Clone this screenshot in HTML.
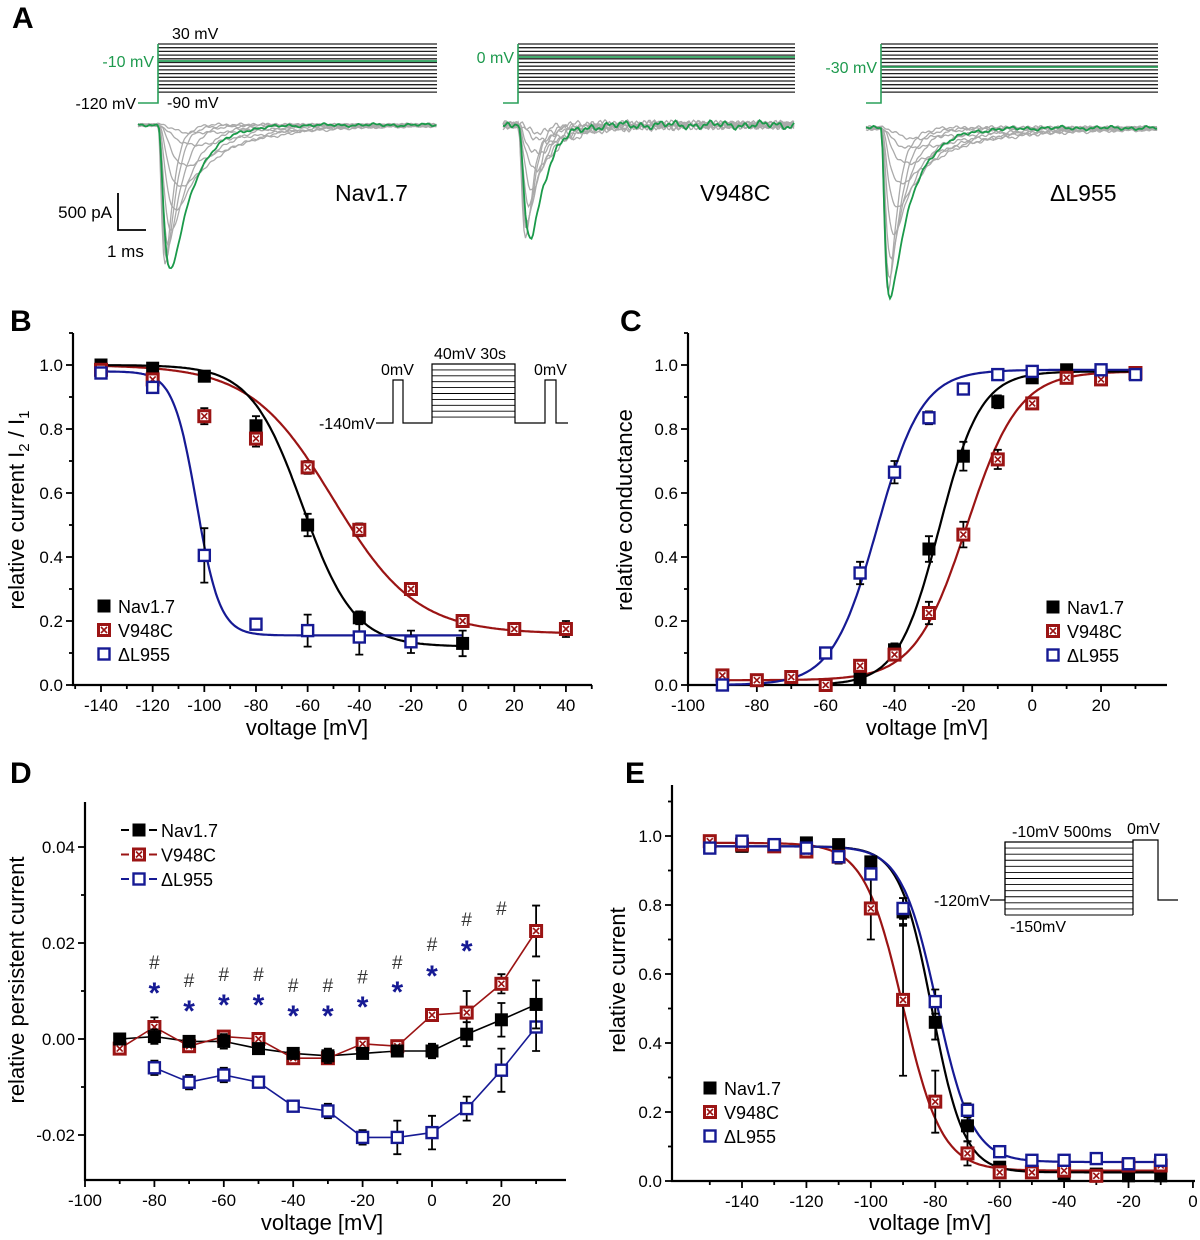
<!DOCTYPE html>
<html><head><meta charset="utf-8"><style>
html,body{margin:0;padding:0;background:#fff;}
svg{display:block;font-family:"Liberation Sans",Arial,sans-serif;}
</style></head><body>
<svg id="fig" width="1200" height="1240" viewBox="0 0 1200 1240" xmlns="http://www.w3.org/2000/svg">
<g id="layer"></g>
</svg>
<script>
// ---------------- DATA ----------------
// Panel B (steady-state slow inactivation)
const bV_nav=[-140,-120,-100,-80,-60,-40,0];
const bY_nav=[1.0,0.99,0.965,0.81,0.50,0.21,0.13];
const bE_nav=[0.01,0.01,0.015,0.03,0.035,0.02,0.04];
const bV_v9=[-140,-120,-100,-80,-60,-40,-20,0,20,40];
const bY_v9=[0.985,0.955,0.84,0.77,0.68,0.485,0.30,0.20,0.175,0.175];
const bE_v9=[0.01,0.01,0.025,0.025,0.02,0.02,0.01,0.01,0.01,0.025];
const bV_dl=[-140,-120,-100,-80,-60,-40,-20];
const bY_dl=[0.975,0.93,0.405,0.19,0.17,0.15,0.135];
const bE_dl=[0.015,0.015,0.085,0.01,0.05,0.055,0.035];
const bFit_nav=[-62,10,1.0,0.12], bFit_v9=[-50,16,1.0,0.16], bFit_dl=[-103,4.5,0.98,0.155];
// Panel C (activation)
const cV_nav=[-60,-50,-40,-30,-20,-10,0,10,20,30];
const cY_nav=[0.0,0.02,0.11,0.425,0.715,0.885,0.96,0.985,0.98,0.975];
const cE_nav=[0.005,0.01,0.02,0.04,0.045,0.02,0.015,0.01,0.01,0.01];
const cV_v9=[-90,-80,-70,-60,-50,-40,-30,-20,-10,0,10,20,30];
const cY_v9=[0.03,0.015,0.025,0.0,0.06,0.095,0.225,0.47,0.705,0.88,0.96,0.955,0.975];
const cE_v9=[0.01,0.01,0.01,0.01,0.01,0.015,0.035,0.04,0.03,0.015,0.01,0.01,0.01];
const cV_dl=[-90,-60,-50,-40,-30,-20,-10,0,20,30];
const cY_dl=[0.0,0.10,0.35,0.665,0.835,0.925,0.97,0.98,0.985,0.97];
const cE_dl=[0.005,0.01,0.035,0.035,0.02,0.01,0.01,0.01,0.01,0.01];
const cFit_nav=[-27,-6,0.98,0.0], cFit_v9=[-19,-7.5,0.98,0.015], cFit_dl=[-45,-6.5,0.985,0.0];
// Panel D (persistent current)
const dV_nav=[-90,-80,-70,-60,-50,-40,-30,-20,-10,0,10,20,30];
const dY_nav=[0.0,0.0005,-0.0005,-0.0005,-0.002,-0.003,-0.0035,-0.003,-0.0025,-0.0025,0.001,0.004,0.0072];
const dE_nav=[0.001,0.0015,0.001,0.0015,0.001,0.001,0.0015,0.001,0.001,0.0015,0.0025,0.0035,0.005];
const dV_v9=[-90,-80,-70,-60,-50,-40,-30,-20,-10,0,10,20,30];
const dY_v9=[-0.002,0.0025,-0.0015,0.0005,0.0,-0.004,-0.004,-0.001,-0.0015,0.005,0.0055,0.0115,0.0225];
const dE_v9=[0.001,0.002,0.001,0.001,0.001,0.001,0.001,0.001,0.001,0.001,0.0045,0.002,0.0053];
const dV_dl=[-80,-70,-60,-50,-40,-30,-20,-10,0,10,20,30];
const dY_dl=[-0.006,-0.009,-0.0075,-0.009,-0.014,-0.015,-0.0205,-0.0205,-0.0195,-0.0145,-0.0065,0.0025];
const dE_dl=[0.0015,0.0015,0.0015,0.001,0.001,0.0015,0.0015,0.0035,0.0035,0.0025,0.0045,0.005];
const dHashV=[-80,-70,-60,-50,-40,-30,-20,-10,0,10,20];
const dHashY=[0.016,0.0123,0.0135,0.0135,0.0113,0.0113,0.013,0.016,0.0198,0.025,0.0273];
const dStarV=[-80,-70,-60,-50,-40,-30,-20,-10,0,10];
const dStarY=[0.0102,0.0065,0.0077,0.0077,0.0054,0.0054,0.0073,0.0104,0.0138,0.019];
// Panel E (fast inactivation)
const eV=[-150,-140,-130,-120,-110,-100,-90,-80,-70,-60,-50,-40,-30,-20,-10];
const eY_nav=[0.97,0.97,0.975,0.98,0.975,0.925,0.78,0.46,0.16,0.04,0.03,0.02,0.02,0.015,0.015];
const eE_nav=[0.01,0.01,0.01,0.01,0.01,0.015,0.04,0.05,0.045,0.01,0.01,0.01,0.01,0.01,0.01];
const eY_v9=[0.985,0.975,0.97,0.955,0.94,0.79,0.525,0.23,0.08,0.025,0.025,0.03,0.015,0.045,0.045];
const eE_v9=[0.01,0.01,0.01,0.01,0.02,0.09,0.22,0.09,0.035,0.01,0.01,0.01,0.01,0.01,0.01];
const eY_dl=[0.965,0.985,0.975,0.965,0.94,0.89,0.79,0.52,0.205,0.085,0.06,0.06,0.065,0.05,0.06];
const eE_dl=[0.01,0.01,0.01,0.01,0.01,0.015,0.03,0.035,0.02,0.01,0.01,0.01,0.01,0.01,0.01];
const eFit_nav=[-81,5,0.97,0.025], eFit_v9=[-90,6,0.98,0.03], eFit_dl=[-79.5,5.5,0.97,0.055];
// Panel A trace parameters (peak amplitude px, decay px, time-to-peak px)
const aAmp_nav=[8,20,40,62,85,105,120,132,140], aTau_nav=[90,75,60,45,30,20,13,9,7], aTp_nav=[40,34,28,22,18,15,13,12,11], aG_nav=[145,22,13];
const aAmp_v9=[8,15,28,45,62,80,95,105,110], aTau_v9=[50,40,32,24,18,13,10,8,7], aTp_v9=[30,26,22,19,17,15,14,13,12], aG_v9=[113,14,16];
const aAmp_dl=[10,20,35,55,80,105,130,150,165], aTau_dl=[110,90,70,50,35,24,16,12,9], aTp_dl=[30,26,22,18,15,13,11,10,9], aG_dl=[170,22,8];

// ---------------- HELPERS ----------------
const NS='http://www.w3.org/2000/svg';
const root=document.getElementById('layer');
function el(tag,attrs,parent){const e=document.createElementNS(NS,tag);for(const k in attrs)e.setAttribute(k,attrs[k]);(parent||root).appendChild(e);return e;}
function txt(s,x,y,size,anchor,fill,parent,extra){const t=el('text',Object.assign({x:x,y:y,'font-size':size,'text-anchor':anchor||'start',fill:fill||'#000'},extra||{}),parent);t.textContent=s;return t;}
const RED='#9b1414', BLUE='#161a94';
function boltz(p,v){return p[3]+(p[2]-p[3])/(1+Math.exp((v-p[0])/p[1]));}

function axes(g,o){
  const sx=v=>o.x0+(v-o.xv0)*o.xk, sy=v=>o.y0-(v-o.yv0)*o.yk;
  const ax=el('g',{},g);
  
  
  el('line',{x1:o.yAxisX,y1:o.ytop,x2:o.yAxisX,y2:o.xAxisY+1,stroke:'#000','stroke-width':2.2},ax);
  el('line',{x1:o.yAxisX-1,y1:o.xAxisY,x2:o.xmax,y2:o.xAxisY,stroke:'#000','stroke-width':2.2},ax);
  for(let v=o.xt[0];v<=o.xt[1]+1e-9;v+=o.xt[2]){
    const major=Math.abs(Math.round(v/o.xt[3])*o.xt[3]-v)<1e-9;
    const x=sx(v);
    el('line',{x1:x,y1:o.xAxisY,x2:x,y2:o.xAxisY+(major?7:4),stroke:'#000','stroke-width':1.8},ax);
    if(major){const t=txt(String(Math.round(v)),x,o.xAxisY+26,17,'middle','#000',ax);}
  }
  for(let i=0;;i++){
    const v=o.yt[0]+i*o.yt[2]; if(v>o.yt[1]+1e-9)break;
    const major=Math.abs(Math.round(v/o.yt[3])*o.yt[3]-v)<1e-9;
    const y=sy(v);
    el('line',{x1:o.yAxisX,y1:y,x2:o.yAxisX-(major?7:4),y2:y,stroke:'#000','stroke-width':1.8},ax);
    if(major){const t=txt(o.yfmt(v),o.yAxisX-10,y+6,17,'end','#000',ax);}
  }
  return {sx,sy};
}
function marker(g,type,x,y,s){
  s=s||13;const h=s/2;
  if(type==='nav'){el('rect',{x:x-h,y:y-h,width:s,height:s,fill:'#000'},g);}
  else if(type==='v9'){el('rect',{x:x-h+1,y:y-h+1,width:s-2,height:s-2,fill:'#fff',stroke:RED,'stroke-width':3},g);
    el('path',{d:`M${x-3},${y-3}L${x+3},${y+3}M${x+3},${y-3}L${x-3},${y+3}`,stroke:RED,'stroke-width':1.6},g);}
  else {el('rect',{x:x-h+1,y:y-h+1,width:s-2,height:s-2,fill:'#fff',stroke:BLUE,'stroke-width':2.4},g);}
}
function series(g,sc,type,V,Y,E,name){
  const gg=el('g',{},g);
  
  
  for(let i=0;i<V.length;i++){
    const x=sc.sx(V[i]),y1=sc.sy(Y[i]+E[i]),y2=sc.sy(Y[i]-E[i]);
    el('path',{d:`M${x},${y1}L${x},${y2}M${x-4},${y1}L${x+4},${y1}M${x-4},${y2}L${x+4},${y2}`,stroke:'#000','stroke-width':1.8},gg);
  }
  for(let i=0;i<V.length;i++){marker(gg,type,sc.sx(V[i]),sc.sy(Y[i]));}
}
function fit(g,sc,p,v0,v1,color,name){
  let d='';for(let v=v0;v<=v1+1e-9;v+=0.5){d+=(d?'L':'M')+sc.sx(v).toFixed(1)+','+sc.sy(boltz(p,v)).toFixed(1);}
  const pth=el('path',{d:d,fill:'none',stroke:color,'stroke-width':2.2},g);
  
  
}
function connect(g,sc,V,Y,color,name){
  let d='';for(let i=0;i<V.length;i++)d+=(i?'L':'M')+sc.sx(V[i])+','+sc.sy(Y[i]);
  const pth=el('path',{d:d,fill:'none',stroke:color,'stroke-width':1.6},g);
  
  
}
function legend(g,x,y,dy,withLine){
  const items=[['nav','Nav1.7','#000'],['v9','V948C',RED],['dl','\u0394L955',BLUE]];
  items.forEach((it,i)=>{
    const lg=el('g',{},g);
    
    
    const yy=y+i*dy;
    if(withLine){el('path',{d:`M${x-18},${yy}L${x-10},${yy}M${x+10},${yy}L${x+18},${yy}`,stroke:it[2],'stroke-width':2},lg);}
    marker(lg,it[0],x,yy);
    txt(it[1],x+(withLine?22:14),yy+7,18,'start','#000',lg);
  });
}
function panelLetter(s,x,y){const t=txt(s,x,y,30,'start','#000',root,{'font-weight':'bold'});}
function ytitle(s,x,y,parent){const t=el('text',{x:0,y:0,'font-size':22,'text-anchor':'middle',transform:`translate(${x},${y}) rotate(-90)`},parent);t.textContent=s;return t;}
function xtitle(s,x,y,parent){const t=txt(s,x,y,22,'middle','#000',parent);}
const f1=v=>v.toFixed(1), f2=v=>v.toFixed(2);

// ---------------- PANEL A ----------------
const gA=el('g',{});


panelLetter('A',12,28);
function protocol(x0,x1,stepStart,greenY,label,labelY){
  const g=el('g',{},gA);
  
  
  for(let i=0;i<14;i++){const y=44+i*3.7;el('line',{x1:x0,y1:y,x2:x1,y2:y,stroke:'#222','stroke-width':1.3},g);}
  el('line',{x1:x0,y1:greenY,x2:x1,y2:greenY,stroke:'#2aa05a','stroke-width':1.8},g);
  el('path',{d:`M${stepStart},103L${x0},103L${x0},44`,fill:'none',stroke:'#2aa05a','stroke-width':1.6},g);
  txt(label,x0-4,labelY+6,16,'end','#1e9a4e',g);
}
protocol(158,437,138,61,'-10 mV',61);
protocol(518,795,503,57,'0 mV',57);
protocol(881,1158,866,67,'-30 mV',67);
txt('30 mV',172,39,16,'start','#000',gA);
txt('-120 mV',136,109,16,'end','#000',gA);
txt('-90 mV',167,108,16,'start','#000',gA);
function traces(x0,x1,on,base,amps,taus,tps,green,seed,noise){
  const g=el('g',{},gA);
  
  
  function shape(amp,tau,tp,col,w,s){
    const f=t=>t>0?Math.pow(1-Math.exp(-t/(tp*0.35)),3)*Math.exp(-t/tau):0;
    let mx=0;for(let t=0;t<200;t+=0.5)mx=Math.max(mx,f(t));
    let d='';
    for(let x=x0;x<=x1;x+=1.5){
      const t=x-on;let y=base+amp*f(t)/mx;
      y+=noise*(Math.sin(x*0.9+s)*0.8+Math.sin(x*0.37+s*2)*1.0+Math.sin(x*0.13+s*3)*0.8);
      d+=(d?'L':'M')+x.toFixed(1)+','+y.toFixed(1);
    }
    el('path',{d:d,fill:'none',stroke:col,'stroke-width':w},g);
  }
  for(let i=0;i<amps.length;i++){shape(amps[i],taus[i],tps[i],'#aaa',1.3,i+seed);}
  shape(green[0],green[1],green[2],'#1b9a4a',1.8,seed+20);
}
traces(138,437,158,125,aAmp_nav,aTau_nav,aTp_nav,aG_nav,1,0.8);
traces(503,795,518,125,aAmp_v9,aTau_v9,aTp_v9,aG_v9,5,2.0);
traces(866,1158,881,128,aAmp_dl,aTau_dl,aTp_dl,aG_dl,9,1.0);
txt('Nav1.7',335,201,23,'start','#000',gA);
txt('V948C',700,201,23,'start','#000',gA);
txt('\u0394L955',1050,201,23,'start','#000',gA);
el('path',{d:'M118,193L118,230L146,230',fill:'none',stroke:'#000','stroke-width':1.8},gA);
txt('500 pA',112,218,17,'end','#000',gA);
txt('1 ms',107,257,17,'start','#000',gA);

// ---------------- PANEL B ----------------
const gB=el('g',{});


panelLetter('B',10,331);
const scB=axes(gB,{x0:101,xv0:-140,xk:2.583,y0:685,yv0:0,yk:320,yAxisX:73,xAxisY:685,xmax:592,ytop:333,xt:[-150,50,10,20],yt:[0,1.1,0.1,0.2],yfmt:f1});
fit(gB,scB,bFit_v9,-140,40,RED,'fit-v948c');
fit(gB,scB,bFit_nav,-140,0,'#000','fit-nav17');
fit(gB,scB,bFit_dl,-140,0,BLUE,'fit-dl955');
series(gB,scB,'nav',bV_nav,bY_nav,bE_nav,'series-nav17');
series(gB,scB,'v9',bV_v9,bY_v9,bE_v9,'series-v948c');
series(gB,scB,'dl',bV_dl,bY_dl,bE_dl,'series-dl955');
legend(gB,104,606,24,false);
{const t=el('text',{x:0,y:0,'font-size':22,'text-anchor':'middle',transform:'translate(24,510) rotate(-90)'},gB);
 
 t.innerHTML='relative current I<tspan font-size="15" dy="5">2</tspan><tspan dy="-5"> / I</tspan><tspan font-size="15" dy="5">1</tspan>';}
xtitle('voltage [mV]',307,735,gB);
{const g=el('g',{},gB);
 el('path',{d:'M376,423L393,423L393,380L403,380L403,423L432,423L432,364L515,364L515,423L545,423L545,380L556,380L556,423L568,423',fill:'none',stroke:'#000','stroke-width':1.2},g);
 for(let i=1;i<10;i++){const y=364+i*(59/10);el('line',{x1:432,y1:y,x2:515,y2:y,stroke:'#000','stroke-width':0.9},g);}
 txt('-140mV',375,429,16,'end','#000',g);txt('0mV',381,375,16,'start','#000',g);
 txt('40mV 30s',434,359,16,'start','#000',g);txt('0mV',534,375,16,'start','#000',g);}

// ---------------- PANEL C ----------------
const gC=el('g',{});


panelLetter('C',620,331);
const scC=axes(gC,{x0:688,xv0:-100,xk:3.442,y0:685,yv0:0,yk:320,yAxisX:688,xAxisY:685,xmax:1167,ytop:333,xt:[-100,30,10,20],yt:[0,1.1,0.1,0.2],yfmt:f1});
fit(gC,scC,cFit_v9,-90,30,RED,'fit-v948c');
fit(gC,scC,cFit_nav,-60,30,'#000','fit-nav17');
fit(gC,scC,cFit_dl,-90,30,BLUE,'fit-dl955');
series(gC,scC,'nav',cV_nav,cY_nav,cE_nav,'series-nav17');
series(gC,scC,'v9',cV_v9,cY_v9,cE_v9,'series-v948c');
series(gC,scC,'dl',cV_dl,cY_dl,cE_dl,'series-dl955');
legend(gC,1053,607,24,false);
ytitle('relative conductance',632,510,gC);
xtitle('voltage [mV]',927,735,gC);

// ---------------- PANEL D ----------------
const gD=el('g',{});


panelLetter('D',10,783);
const scD=axes(gD,{x0:85,xv0:-100,xk:3.47,y0:1039,yv0:0,yk:4800,yAxisX:85,xAxisY:1180,xmax:566,ytop:802,xt:[-100,30,10,20],yt:[-0.02,0.04,0.01,0.02],yfmt:f2});
connect(gD,scD,dV_nav,dY_nav,'#000','line-nav17');
connect(gD,scD,dV_v9,dY_v9,RED,'line-v948c');
connect(gD,scD,dV_dl,dY_dl,BLUE,'line-dl955');
series(gD,scD,'dl',dV_dl,dY_dl,dE_dl,'series-dl955');
series(gD,scD,'v9',dV_v9,dY_v9,dE_v9,'series-v948c');
series(gD,scD,'nav',dV_nav,dY_nav,dE_nav,'series-nav17');
for(let i=0;i<dHashV.length;i++){const t=txt('#',scD.sx(dHashV[i]),scD.sy(dHashY[i])+7,19,'middle','#333',gD);}
for(let i=0;i<dStarV.length;i++){const t=txt('*',scD.sx(dStarV[i]),scD.sy(dStarY[i])+13,30,'middle',BLUE,gD,{'font-weight':'bold'});}
legend(gD,139,830,24.5,true);
ytitle('relative persistent current',24,980,gD);
xtitle('voltage [mV]',322,1230,gD);

// ---------------- PANEL E ----------------
const gE=el('g',{});


panelLetter('E',625,783);
const scE=axes(gE,{x0:742,xv0:-140,xk:3.221,y0:1181,yv0:0,yk:345,yAxisX:672,xAxisY:1181,xmax:1195,ytop:785,xt:[-150,0,10,20],yt:[0,1.1,0.1,0.2],yfmt:f1});
fit(gE,scE,eFit_v9,-150,-10,RED,'fit-v948c');
fit(gE,scE,eFit_nav,-150,-10,'#000','fit-nav17');
fit(gE,scE,eFit_dl,-150,-10,BLUE,'fit-dl955');
series(gE,scE,'nav',eV,eY_nav,eE_nav,'series-nav17');
series(gE,scE,'v9',eV,eY_v9,eE_v9,'series-v948c');
series(gE,scE,'dl',eV,eY_dl,eE_dl,'series-dl955');
legend(gE,710,1088,24,false);
ytitle('relative current',625,980,gE);
xtitle('voltage [mV]',930,1230,gE);
{const g=el('g',{},gE);
 el('path',{d:'M990,900L1005,900L1005,842L1133,842L1133,840L1158,840L1158,900L1178,900',fill:'none',stroke:'#000','stroke-width':1.2},g);
 for(let i=1;i<=12;i++){const y=842+i*(73/12);el('line',{x1:1005,y1:y,x2:1133,y2:y,stroke:'#000','stroke-width':0.9},g);}
 el('line',{x1:1005,y1:842,x2:1005,y2:915,stroke:'#000','stroke-width':1.2},g);
 el('line',{x1:1133,y1:840,x2:1133,y2:915,stroke:'#000','stroke-width':1.2},g);
 txt('-120mV',990,906,16,'end','#000',g);txt('-10mV 500ms',1012,837,16,'start','#000',g);
 txt('0mV',1127,834,16,'start','#000',g);txt('-150mV',1010,932,16,'start','#000',g);}
</script>
</body></html>
